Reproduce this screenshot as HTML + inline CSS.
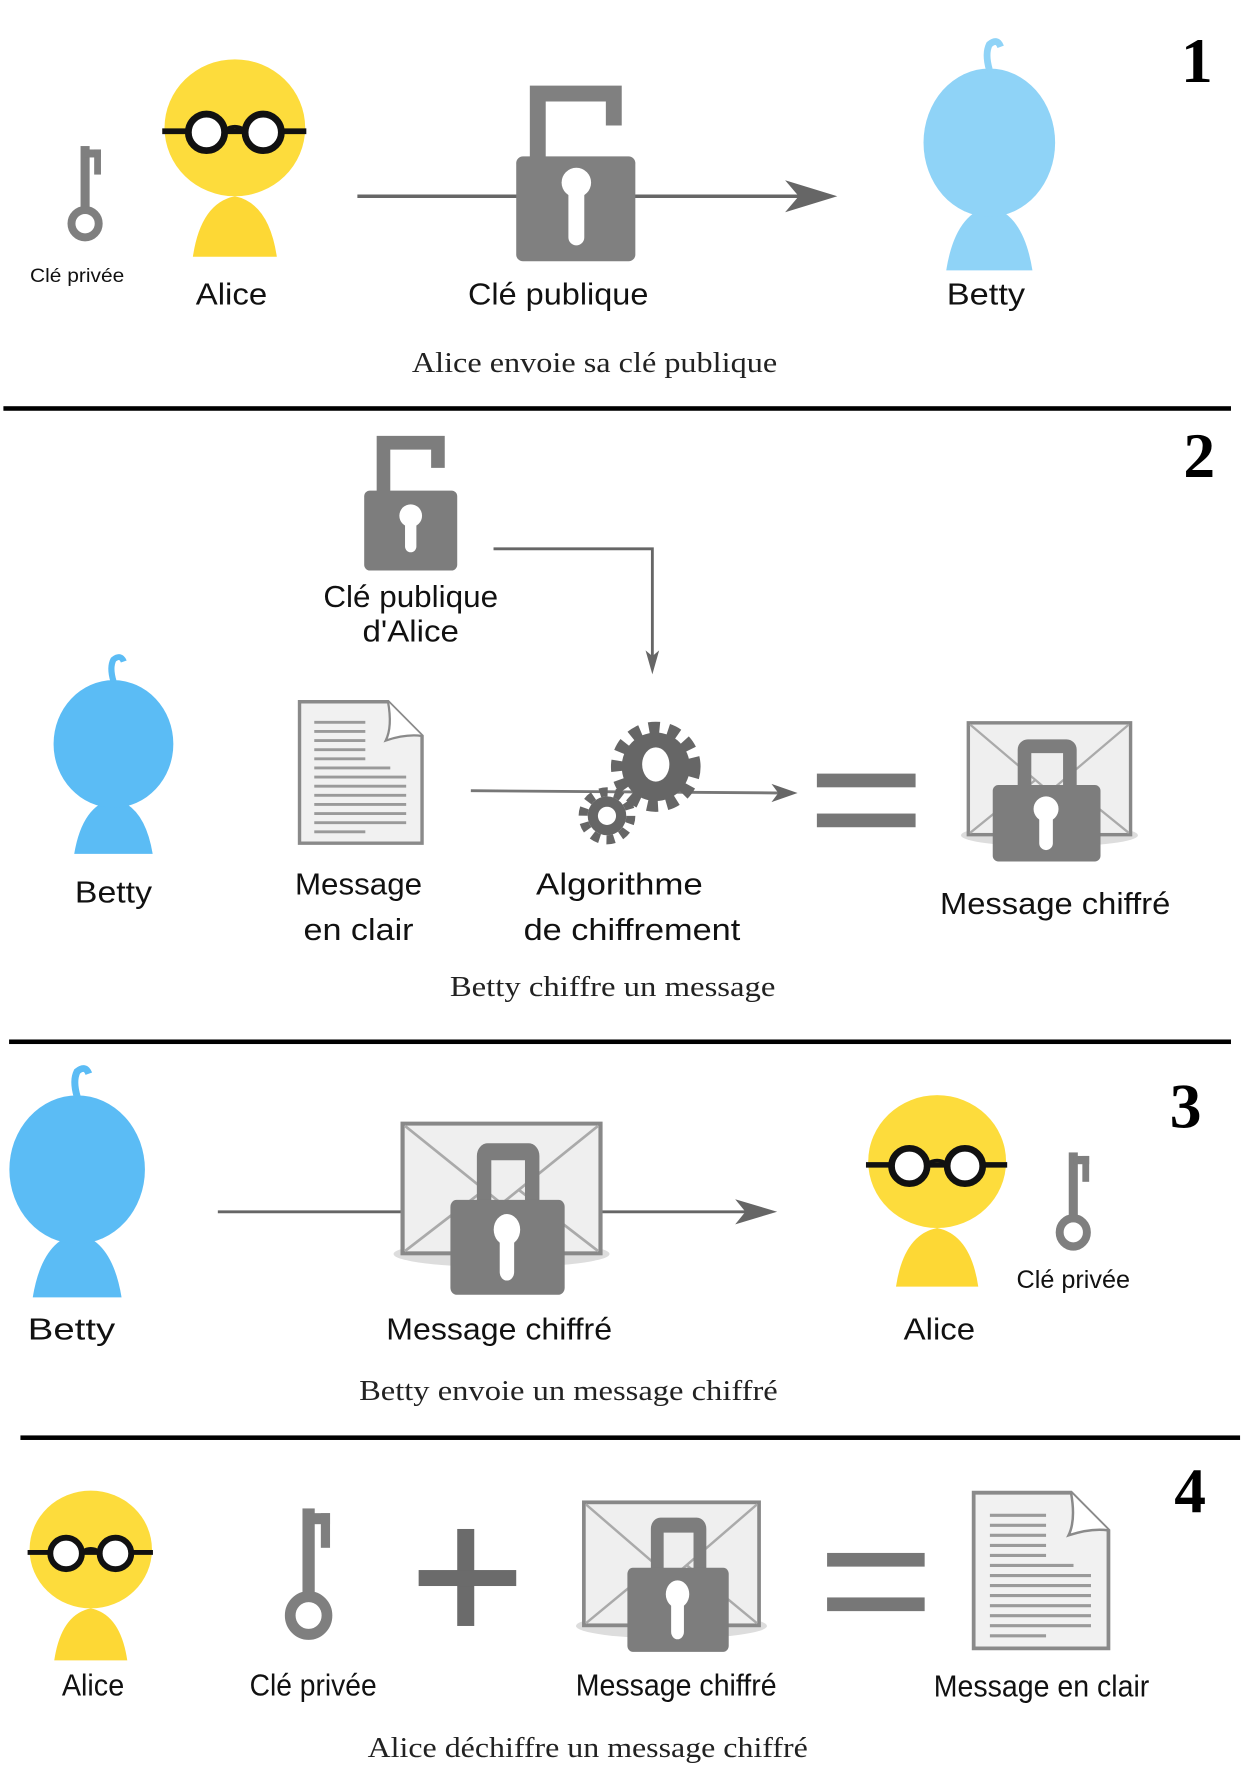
<!DOCTYPE html>
<html><head><meta charset="utf-8"><style>
html,body{margin:0;padding:0;background:#fff;}
svg{display:block;}
.s{font-family:"Liberation Sans",sans-serif;fill:#111;text-anchor:middle;}
.r{font-family:"Liberation Serif",serif;fill:#222;text-anchor:middle;font-size:25px;}
.n{font-family:"Liberation Serif",serif;font-weight:bold;fill:#000;text-anchor:middle;font-size:56px;}
</style></head><body>
<svg width="1248" height="1780" viewBox="0 0 1100 1560" preserveAspectRatio="none" xmlns="http://www.w3.org/2000/svg">
<defs>
<g id="alice">
  <path d="M-37,113 Q-30,66 0,60 Q30,66 37,113 Z" fill="#fdd835"/>
  <ellipse cx="0" cy="0" rx="62" ry="60" fill="#fddc3c"/>
  <line x1="-64" y1="3" x2="63" y2="3" stroke="#111" stroke-width="5"/>
  <path d="M-9,2 Q0,-4 9,2" stroke="#111" stroke-width="3" fill="none"/>
  <circle cx="-25" cy="4" r="16" fill="#fff" stroke="#111" stroke-width="6"/>
  <circle cx="25" cy="4" r="16" fill="#fff" stroke="#111" stroke-width="6"/>
</g>
<g id="betty">
  <path d="M-38,112 Q-30,62 0,56 Q30,62 38,112 Z" fill="currentColor"/>
  <ellipse cx="0" cy="0" rx="58" ry="65" fill="currentColor"/>
  <path d="M0,-64 Q-4,-78 0,-86 Q7,-92 10,-84" stroke="currentColor" stroke-width="6" fill="none"/>
</g>
<g id="key" fill="#7f7f7f">
  <rect x="-4" y="0" width="8" height="58"/>
  <rect x="0" y="3" width="14" height="7"/>
  <rect x="8" y="3" width="6" height="22"/>
  <circle cx="0" cy="68" r="12" fill="none" stroke="#7f7f7f" stroke-width="7"/>
</g>
<g id="doc">
  <path d="M2,2 H80 L110,32 V126 H2 Z" fill="#f1f1f1" stroke="#8a8a8a" stroke-width="3"/>
  <path d="M80,2 Q84,24 78,36 Q96,30 110,32" fill="#fff" stroke="#8a8a8a" stroke-width="2"/>
  <g stroke="#9a9a9a" stroke-width="2.5">
    <line x1="15" y1="20" x2="60" y2="20"/><line x1="15" y1="28" x2="60" y2="28"/>
    <line x1="15" y1="36" x2="60" y2="36"/><line x1="15" y1="44" x2="60" y2="44"/>
    <line x1="15" y1="52" x2="60" y2="52"/><line x1="15" y1="60" x2="82" y2="60"/>
    <line x1="15" y1="68" x2="96" y2="68"/><line x1="15" y1="76" x2="96" y2="76"/>
    <line x1="15" y1="84" x2="96" y2="84"/><line x1="15" y1="92" x2="96" y2="92"/>
    <line x1="15" y1="100" x2="96" y2="100"/><line x1="15" y1="108" x2="96" y2="108"/>
    <line x1="15" y1="116" x2="60" y2="116"/>
  </g>
</g>
<g id="env">
  <ellipse cx="73" cy="100" rx="78" ry="10" fill="#ddd"/>
  <rect x="1.5" y="1.5" width="143" height="98" fill="#efefef" stroke="#888" stroke-width="3"/>
  <path d="M3,3 L73,62 L143,3 M3,98 L60,52 M143,98 L86,52" stroke="#aaa" stroke-width="2" fill="none"/>
</g>
<g id="lock">
  <rect x="28" y="6" width="40" height="50" fill="none" stroke="#7d7d7d" stroke-width="12" rx="3"/>
  <rect x="0" y="40" width="95" height="67" rx="5" fill="#7d7d7d"/>
  <circle cx="47" cy="61" r="11" fill="#fff"/>
  <rect x="41" y="61" width="12" height="36" rx="6" fill="#fff"/>
</g>
</defs>

<!-- Section 1 -->
<text class="n" x="1055" y="72">1</text>
<use href="#key" transform="translate(75,128)"/>
<text class="s" x="68" y="247" font-size="17" textLength="83" lengthAdjust="spacingAndGlyphs">Clé privée</text>
<use href="#alice" transform="translate(207,112)"/>
<text class="s" x="204" y="267" font-size="27" textLength="63" lengthAdjust="spacingAndGlyphs">Alice</text>
<line x1="315" y1="172" x2="722" y2="172" stroke="#666" stroke-width="3"/>
<path d="M738,172 L692,158 L704,172 L692,186 Z" fill="#666"/>
<path d="M474,138 V82 H541 V110" stroke="#808080" stroke-width="14" fill="none"/>
<rect x="455" y="137" width="105" height="92" rx="6" fill="#808080"/>
<circle cx="508" cy="160" r="13" fill="#fff"/>
<rect x="501" y="160" width="14" height="55" rx="7" fill="#fff"/>
<text class="s" x="492" y="267" font-size="27" textLength="159" lengthAdjust="spacingAndGlyphs">Clé publique</text>
<use href="#betty" transform="translate(872,125)" color="#8fd3f7"/>
<text class="s" x="869" y="267" font-size="27" textLength="69" lengthAdjust="spacingAndGlyphs">Betty</text>
<text class="r" x="524" y="326" textLength="322" lengthAdjust="spacingAndGlyphs">Alice envoie sa clé publique</text>
<rect x="3" y="356" width="1082" height="4" fill="#000"/>

<!-- Section 2 -->
<text class="n" x="1057" y="418">2</text>
<path d="M338,432 V388 H386 V410" stroke="#7d7d7d" stroke-width="12" fill="none"/>
<rect x="321" y="430" width="82" height="70" rx="5" fill="#7d7d7d"/>
<circle cx="362" cy="452" r="10" fill="#fff"/>
<rect x="357" y="452" width="10" height="32" rx="5" fill="#fff"/>
<text class="s" x="362" y="532" font-size="27" textLength="154" lengthAdjust="spacingAndGlyphs">Clé publique</text>
<text class="s" x="362" y="562" font-size="27" textLength="85" lengthAdjust="spacingAndGlyphs">d'Alice</text>
<path d="M435,481 H575 V578" stroke="#666" stroke-width="2.5" fill="none"/>
<path d="M575,591 L569,570 L575,575 L581,570 Z" fill="#666"/>
<use href="#betty" transform="translate(100,652) scale(0.91,0.86)" color="#5bbcf5"/>
<text class="s" x="100" y="791" font-size="27" textLength="68" lengthAdjust="spacingAndGlyphs">Betty</text>
<use href="#doc" transform="translate(262,613)"/>
<text class="s" x="316" y="784" font-size="27" textLength="112" lengthAdjust="spacingAndGlyphs">Message</text>
<text class="s" x="316" y="824" font-size="27" textLength="97" lengthAdjust="spacingAndGlyphs">en clair</text>
<line x1="415" y1="693" x2="692" y2="695" stroke="#777" stroke-width="2.5"/>
<path d="M703,695 L680,687 L686,695 L680,703 Z" fill="#666"/>
<circle cx="578" cy="672" r="30" fill="#666"/>
<circle cx="578" cy="672" r="34" fill="none" stroke="#666" stroke-width="11" stroke-dasharray="9.5 7.6"/>
<ellipse cx="578" cy="670" rx="12" ry="15" fill="#fff"/>
<circle cx="535" cy="715" r="17" fill="#666"/>
<circle cx="535" cy="715" r="21" fill="none" stroke="#666" stroke-width="8" stroke-dasharray="7 6.2"/>
<circle cx="535" cy="715" r="8" fill="#fff"/>
<text class="s" x="546" y="784" font-size="27" textLength="147" lengthAdjust="spacingAndGlyphs">Algorithme</text>
<text class="s" x="557" y="824" font-size="27" textLength="191" lengthAdjust="spacingAndGlyphs">de chiffrement</text>
<rect x="720" y="678" width="87" height="12" fill="#777"/>
<rect x="720" y="713" width="87" height="12" fill="#777"/>
<use href="#env" transform="translate(852,632)"/>
<use href="#lock" transform="translate(875,648)"/>
<text class="s" x="930" y="801" font-size="27" textLength="203" lengthAdjust="spacingAndGlyphs">Message chiffré</text>
<text class="r" x="540" y="873" textLength="287" lengthAdjust="spacingAndGlyphs">Betty chiffre un message</text>
<rect x="8" y="911" width="1077" height="4" fill="#000"/>

<!-- Section 3 -->
<text class="n" x="1045" y="988">3</text>
<use href="#betty" transform="translate(68,1025) scale(1.03,1.0)" color="#5bbcf5"/>
<text class="s" x="63" y="1174" font-size="27" textLength="77" lengthAdjust="spacingAndGlyphs">Betty</text>
<line x1="192" y1="1062" x2="672" y2="1062" stroke="#666" stroke-width="2.5"/>
<path d="M685,1062 L648,1051 L657,1062 L648,1073 Z" fill="#666"/>
<use href="#env" transform="translate(353,983) scale(1.22,1.16)"/>
<use href="#lock" transform="translate(397,1002) scale(1.06,1.24)"/>
<text class="s" x="440" y="1174" font-size="27" textLength="199" lengthAdjust="spacingAndGlyphs">Message chiffré</text>
<use href="#alice" transform="translate(826,1018) scale(0.98,0.97)"/>
<use href="#key" transform="translate(946,1010) scale(1.0,1.03)"/>
<text class="s" x="946" y="1129" font-size="22" textLength="100" lengthAdjust="spacingAndGlyphs">Clé privée</text>
<text class="s" x="828" y="1174" font-size="27" textLength="63" lengthAdjust="spacingAndGlyphs">Alice</text>
<text class="r" x="501" y="1227" textLength="369" lengthAdjust="spacingAndGlyphs">Betty envoie un message chiffré</text>
<rect x="18" y="1258" width="1075" height="4" fill="#000"/>

<!-- Section 4 -->
<text class="n" x="1049" y="1325">4</text>
<use href="#alice" transform="translate(80,1358) scale(0.87,0.86)"/>
<text class="s" x="82" y="1486" font-size="27" textLength="55" lengthAdjust="spacingAndGlyphs">Alice</text>
<use href="#key" transform="translate(272,1322) scale(1.35,1.38)"/>
<text class="s" x="276" y="1486" font-size="27" textLength="112" lengthAdjust="spacingAndGlyphs">Clé privée</text>
<rect x="403" y="1340" width="15" height="85" fill="#6b6b6b"/>
<rect x="369" y="1376" width="86" height="14" fill="#6b6b6b"/>
<use href="#env" transform="translate(513,1315) scale(1.08,1.1)"/>
<use href="#lock" transform="translate(553,1330) scale(0.94,1.1)"/>
<text class="s" x="596" y="1486" font-size="27" textLength="177" lengthAdjust="spacingAndGlyphs">Message chiffré</text>
<rect x="729" y="1361" width="86" height="12" fill="#777"/>
<rect x="729" y="1400" width="86" height="12" fill="#777"/>
<use href="#doc" transform="translate(856,1306) scale(1.1,1.1)"/>
<text class="s" x="918" y="1487" font-size="27" textLength="190" lengthAdjust="spacingAndGlyphs">Message en clair</text>
<text class="r" x="518" y="1540" textLength="388" lengthAdjust="spacingAndGlyphs">Alice déchiffre un message chiffré</text>
</svg>
</body></html>
